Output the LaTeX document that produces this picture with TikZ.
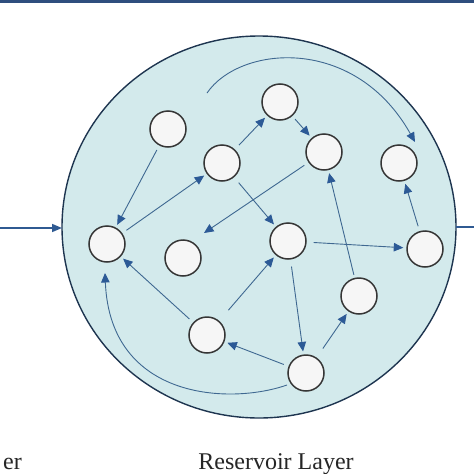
\documentclass[tikz,border=0pt]{standalone}
\usepackage{fontspec}
\setmainfont{Liberation Serif}
\usetikzlibrary{arrows.meta}
\definecolor{resfill}{HTML}{D3EAEC}
\definecolor{resborder}{HTML}{1E3550}
\definecolor{edgeblue}{HTML}{3F6891}
\definecolor{tipblue}{HTML}{2C5A96}
\definecolor{ioblue}{HTML}{2F5A92}
\definecolor{topblue}{HTML}{2E4E7E}
\definecolor{nodefill}{HTML}{F6F6F6}
\definecolor{nodeborder}{HTML}{363636}
\tikzset{
  neuron/.style={circle, minimum size=36pt, inner sep=0pt, fill=nodefill, draw=nodeborder, line width=1.5pt},
  link/.style={draw=edgeblue, line width=0.9pt, shorten <=5pt, shorten >=3pt,
    -{Triangle[length=9.5pt,width=8.5pt,color=tipblue]}},
  label/.style={font=\fontsize{24}{28}\selectfont, text=black!85, inner sep=0pt}
}
\begin{document}
\begin{tikzpicture}[x=1pt,y=-1pt]
\useasboundingbox (0,0) rectangle (474,474);
\fill[white] (0,0) rectangle (474,474);
% top rule
\fill[topblue] (0,0) rectangle (474,2.8);
% reservoir
\draw[fill=resfill, draw=resborder, line width=1.4pt] (259,227) ellipse [x radius=197pt, y radius=191pt];
\coordinate (inL) at (0,228);
\coordinate (resL) at (62,228);
\coordinate (resR) at (456,227);
\coordinate (outR) at (474,227);
\draw[ioblue, line width=1.5pt, -{Triangle[length=10pt,width=8pt]}] (inL) -- (resL);
\draw[ioblue, line width=1.5pt] (resR) -- (outR);
% neurons
\node[neuron] (a) at (168,129) {};
\node[neuron] (b) at (222,163) {};
\node[neuron] (c) at (280,102) {};
\node[neuron] (d) at (324,152) {};
\node[neuron] (e) at (399,163) {};
\node[neuron] (f) at (107,244) {};
\node[neuron] (g) at (183,258) {};
\node[neuron] (h) at (288,241) {};
\node[neuron] (i) at (425,249) {};
\node[neuron] (j) at (359,296) {};
\node[neuron] (k) at (207,335) {};
\node[neuron] (l) at (306,373) {};
\coordinate (gend) at (204,233);
\coordinate (arcS) at (207,93);
\coordinate (arcE) at (415,142);
\coordinate (curS) at (287,385);
\coordinate (curE) at (105,273);
% connections
\draw[link] (a) -- (f);
\draw[link] (f) -- (b);
\draw[link, shorten <=6pt] (b) -- (c);
\draw[link, shorten <=4pt] (c) -- (d);
\draw[link, shorten <=7pt] (b) -- (h);
\draw[link, shorten >=0pt] (d) -- (gend);
\draw[link] (i) -- (e);
\draw[link, shorten <=3pt] (j) -- (d);
\draw[link, shorten <=7pt] (h) -- (i);
\draw[link, shorten <=7pt] (h) -- (l);
\draw[link, shorten <=11pt] (l) -- (j);
\draw[link, shorten <=14pt] (k) -- (h);
\draw[link] (k) -- (f);
\draw[link] (l) -- (k);
\draw[link, shorten <=0pt, shorten >=0pt] (arcS) .. controls (240,45) and (355,35) .. (arcE);
\draw[link, shorten <=0pt, shorten >=0pt] (curS) .. controls (230,405) and (110,400) .. (curE);
% labels
\node[label, anchor=base] (res) at (276,469) {Reservoir Layer};
\node[label, anchor=base east] (inp) at (22,469) {er};
\end{tikzpicture}
\end{document}
